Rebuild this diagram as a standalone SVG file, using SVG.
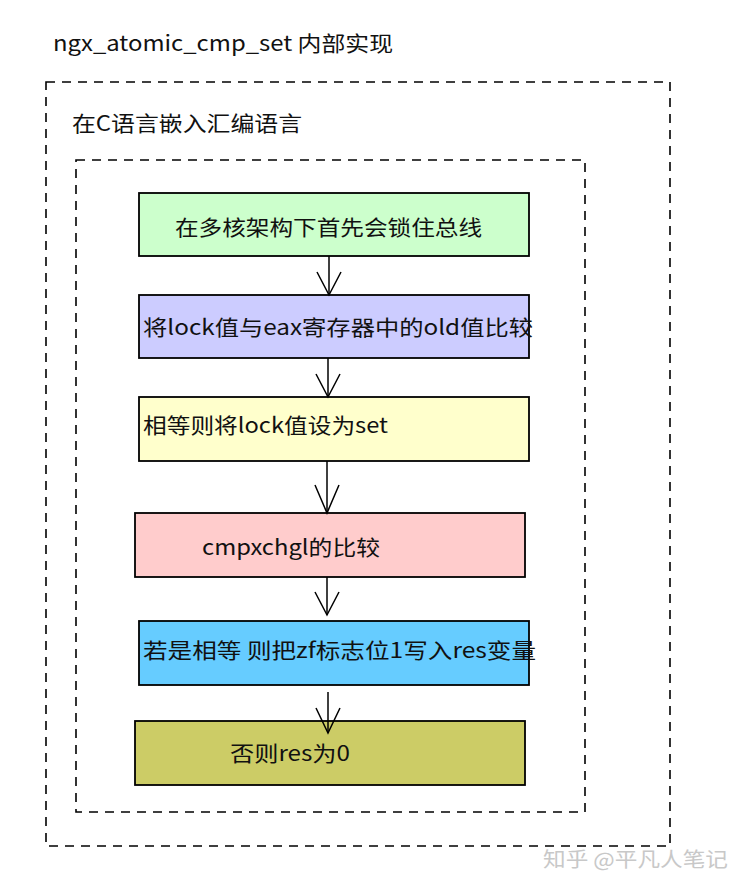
<svg xmlns="http://www.w3.org/2000/svg" width="748" height="892" viewBox="0 0 748 892">
<style>
text{font-family:"Noto Sans CJK SC","Noto Sans",sans-serif;fill:#111;}
.t{font-size:21px;}
.dash{fill:none;stroke:#000;stroke-width:1.6;stroke-dasharray:9,7;}
.box{stroke:#000;stroke-width:1.8;}
.c line,.c polyline{stroke:#000;stroke-width:1.5;fill:none;}
</style>
<rect width="748" height="892" fill="#fff"/>
<g id="title"><text class="t" x="53" y="51" textLength="340" lengthAdjust="spacingAndGlyphs">ngx_atomic_cmp_set 内部实现</text></g>
<g id="outer"><rect class="dash" x="46" y="82" width="624" height="764"/>
<text class="t" x="72" y="131" textLength="230" lengthAdjust="spacingAndGlyphs">在C语言嵌入汇编语言</text></g>
<g id="inner"><rect class="dash" x="76" y="160" width="509" height="652"/></g>
<g id="n1"><rect class="box" x="139" y="193" width="390" height="63" fill="#ccffcc"/>
<text class="t" x="175" y="235" textLength="307" lengthAdjust="spacingAndGlyphs">在多核架构下首先会锁住总线</text></g>
<g id="n2"><rect class="box" x="139" y="295" width="390" height="63" fill="#ccccff"/>
<text class="t" x="143" y="335" textLength="390" lengthAdjust="spacingAndGlyphs">将lock值与eax寄存器中的old值比较</text></g>
<g id="n3"><rect class="box" x="139" y="397" width="390" height="64" fill="#ffffcc"/>
<text class="t" x="143" y="433" textLength="245" lengthAdjust="spacingAndGlyphs">相等则将lock值设为set</text></g>
<g id="n4"><rect class="box" x="135" y="513" width="390" height="64" fill="#ffcccc"/>
<text class="t" x="202" y="555" textLength="178" lengthAdjust="spacingAndGlyphs">cmpxchgl的比较</text></g>
<g id="n5"><rect class="box" x="139" y="621" width="390" height="64" fill="#66ccff"/>
<text class="t" x="143" y="658" textLength="393" lengthAdjust="spacingAndGlyphs">若是相等 则把zf标志位1写入res变量</text></g>
<g id="n6"><rect class="box" x="135" y="721" width="390" height="64" fill="#cccc66"/>
<text class="t" x="230" y="761" textLength="120" lengthAdjust="spacingAndGlyphs">否则res为0</text></g>
<g class="c" id="connectors">
<line x1="329" y1="256" x2="329" y2="295"/><polyline points="317,272 329,295 341,272"/>
<line x1="328" y1="358" x2="328" y2="397"/><polyline points="316,374 328,397 340,374"/>
<line x1="327" y1="461" x2="327" y2="513"/><polyline points="315,485 327,513 339,485"/>
<line x1="327" y1="577" x2="327" y2="615"/><polyline points="315,592 327,615 339,592"/>
<line x1="328" y1="692" x2="328" y2="733"/><polyline points="316,708 328,733 340,708"/>
</g>
<g id="watermark"><text x="543" y="867" font-size="20" style="fill:#c8c8c8" textLength="185" lengthAdjust="spacingAndGlyphs">知乎 @平凡人笔记</text></g>
</svg>
